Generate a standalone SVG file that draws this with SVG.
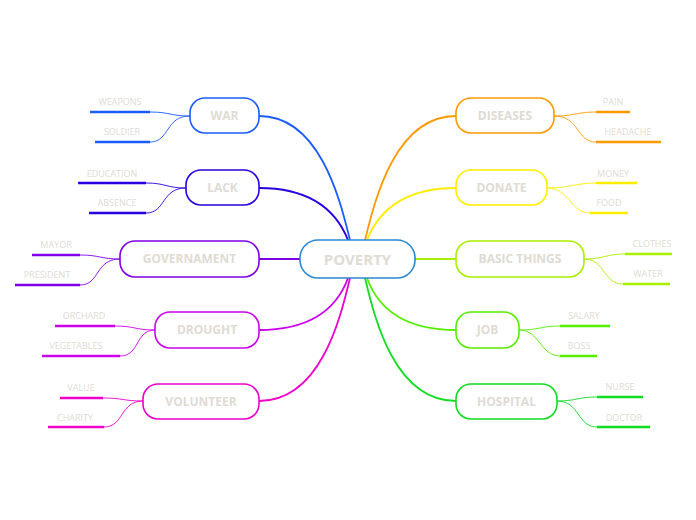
<svg xmlns="http://www.w3.org/2000/svg" width="696" height="520" viewBox="0 0 696 520">
<style>
text{font-family:"Open Sans","Noto Sans",sans-serif;fill:#e0dbd3;text-anchor:middle}
.n{font-size:12px;font-weight:bold}
.l{font-size:9px}
rect{fill:#fff;stroke-width:1.6}
.c path{fill:none}
.m{stroke-width:1.8}
.t{stroke-width:0.9}
.u{stroke-width:2.5}
</style>
<rect width="696" height="520" fill="#fff" stroke="none"/>
<g class="c">
<path class="m" stroke="#1a5cff" d="M259,116 C320,116 340,200 350,240"/>
<path class="m" stroke="#2a00e0" d="M259,188 C320,188 340,220 348,240"/>
<path class="m" stroke="#8000e6" d="M259,259 H300"/>
<path class="m" stroke="#cc00ee" d="M259,330 C320,330 340,300 348,278"/>
<path class="m" stroke="#ee00cc" d="M259,401 C320,401 340,320 350,278"/>
<path class="m" stroke="#ff9900" d="M456,116 C395,116 375,200 365,240"/>
<path class="m" stroke="#ffee00" d="M456,188 C395,188 375,220 367,240"/>
<path class="m" stroke="#aaee00" d="M415,259 H456"/>
<path class="m" stroke="#55ee00" d="M456,330 C395,330 375,300 367,278"/>
<path class="m" stroke="#11dd22" d="M456,401 C395,401 375,320 365,278"/>
<path class="t" stroke="#1a5cff" d="M190,116 C170,116 170,112 150,112 M190,116 C165,116 170,142 150,142"/>
<path class="u" stroke="#1a5cff" d="M90,112 H150 M95,142 H150"/>
<path class="t" stroke="#2a00e0" d="M186,188 C166,188 166,183 146,183 M186,188 C161,188 166,213 146,213"/>
<path class="u" stroke="#2a00e0" d="M78,183 H146 M89,213 H146"/>
<path class="t" stroke="#8000e6" d="M120,259 C100,259 100,255 80,255 M120,259 C95,259 100,285 80,285"/>
<path class="u" stroke="#8000e6" d="M32,255 H80 M15,285 H80"/>
<path class="t" stroke="#cc00ee" d="M155,330 C135,330 135,326 115,326 M155,330 C135,330 140,356 120,356"/>
<path class="u" stroke="#cc00ee" d="M55,326 H115 M42,356 H120"/>
<path class="t" stroke="#ee00cc" d="M143,401 C123,401 123,398 103,398 M143,401 C120,401 124,427 104,427"/>
<path class="u" stroke="#ee00cc" d="M60,398 H103 M48,427 H104"/>
<path class="t" stroke="#ff9900" d="M554,116 C576,116 576,112 596,112 M554,116 C580,116 576,142 596,142"/>
<path class="u" stroke="#ff9900" d="M596,112 H630 M596,142 H661"/>
<path class="t" stroke="#ffee00" d="M547,188 C570,188 576,183 596,183 M547,188 C570,188 570,213 590,213"/>
<path class="u" stroke="#ffee00" d="M596,183 H637 M590,213 H628"/>
<path class="t" stroke="#aaee00" d="M584,259 C605,259 605,254 625,254 M584,259 C605,259 603,284 623,284"/>
<path class="u" stroke="#aaee00" d="M625,254 H672 M623,284 H670"/>
<path class="t" stroke="#55ee00" d="M519,330 C540,330 540,326 560,326 M519,330 C540,330 540,356 560,356"/>
<path class="u" stroke="#55ee00" d="M560,326 H610 M560,356 H597"/>
<path class="t" stroke="#11dd22" d="M557,401 C577,401 577,397 597,397 M557,401 C580,401 577,427 597,427"/>
<path class="u" stroke="#11dd22" d="M597,397 H643 M597,427 H650"/>
</g>
<g id="poverty"><rect x="300" y="240" width="115" height="38" rx="18" stroke="#2a88d0" fill="#fbfdfe"/><text class="n" x="357.5" y="265" style="font-size:15px">POVERTY</text></g>
<g id="war"><rect x="190" y="98" width="69" height="35" rx="15" stroke="#1a5cff"/><text class="n" x="224.5" y="120">WAR</text></g>
<g id="lack"><rect x="186" y="170" width="73" height="35" rx="15" stroke="#2a00e0"/><text class="n" x="222.5" y="192">LACK</text></g>
<g id="gov"><rect x="120" y="241" width="139" height="36" rx="15" stroke="#8000e6"/><text class="n" x="189.5" y="263">GOVERNAMENT</text></g>
<g id="drought"><rect x="155" y="312" width="104" height="36" rx="15" stroke="#cc00ee"/><text class="n" x="207" y="334">DROUGHT</text></g>
<g id="volunteer"><rect x="143" y="384" width="116" height="35" rx="15" stroke="#ee00cc"/><text class="n" x="201" y="406">VOLUNTEER</text></g>
<g id="diseases"><rect x="456" y="98" width="98" height="35" rx="15" stroke="#ff9900"/><text class="n" x="505" y="120">DISEASES</text></g>
<g id="donate"><rect x="456" y="170" width="91" height="35" rx="15" stroke="#ffee00"/><text class="n" x="501.5" y="192">DONATE</text></g>
<g id="basic"><rect x="456" y="241" width="128" height="36" rx="15" stroke="#aaee00"/><text class="n" x="520" y="263">BASIC THINGS</text></g>
<g id="job"><rect x="456" y="312" width="63" height="36" rx="15" stroke="#55ee00"/><text class="n" x="487.5" y="334">JOB</text></g>
<g id="hospital"><rect x="456" y="384" width="101" height="35" rx="15" stroke="#11dd22"/><text class="n" x="506.5" y="406">HOSPITAL</text></g>
<g id="leaves">
<text class="l" x="120" y="105">WEAPONS</text><text class="l" x="122" y="135">SOLDIER</text>
<text class="l" x="112" y="177">EDUCATION</text><text class="l" x="117" y="206">ABSENCE</text>
<text class="l" x="56" y="248">MAYOR</text><text class="l" x="47" y="278">PRESIDENT</text>
<text class="l" x="84" y="319">ORCHARD</text><text class="l" x="76" y="349">VEGETABLES</text>
<text class="l" x="81" y="391">VALUE</text><text class="l" x="75" y="421">CHARITY</text>
<text class="l" x="613" y="105">PAIN</text><text class="l" x="628" y="135">HEADACHE</text>
<text class="l" x="613" y="177">MONEY</text><text class="l" x="609" y="206">FOOD</text>
<text class="l" x="652" y="247">CLOTHES</text><text class="l" x="648" y="277">WATER</text>
<text class="l" x="584" y="319">SALARY</text><text class="l" x="579" y="349">BOSS</text>
<text class="l" x="620" y="390">NURSE</text><text class="l" x="624" y="421">DOCTOR</text>
</g>
</svg>
